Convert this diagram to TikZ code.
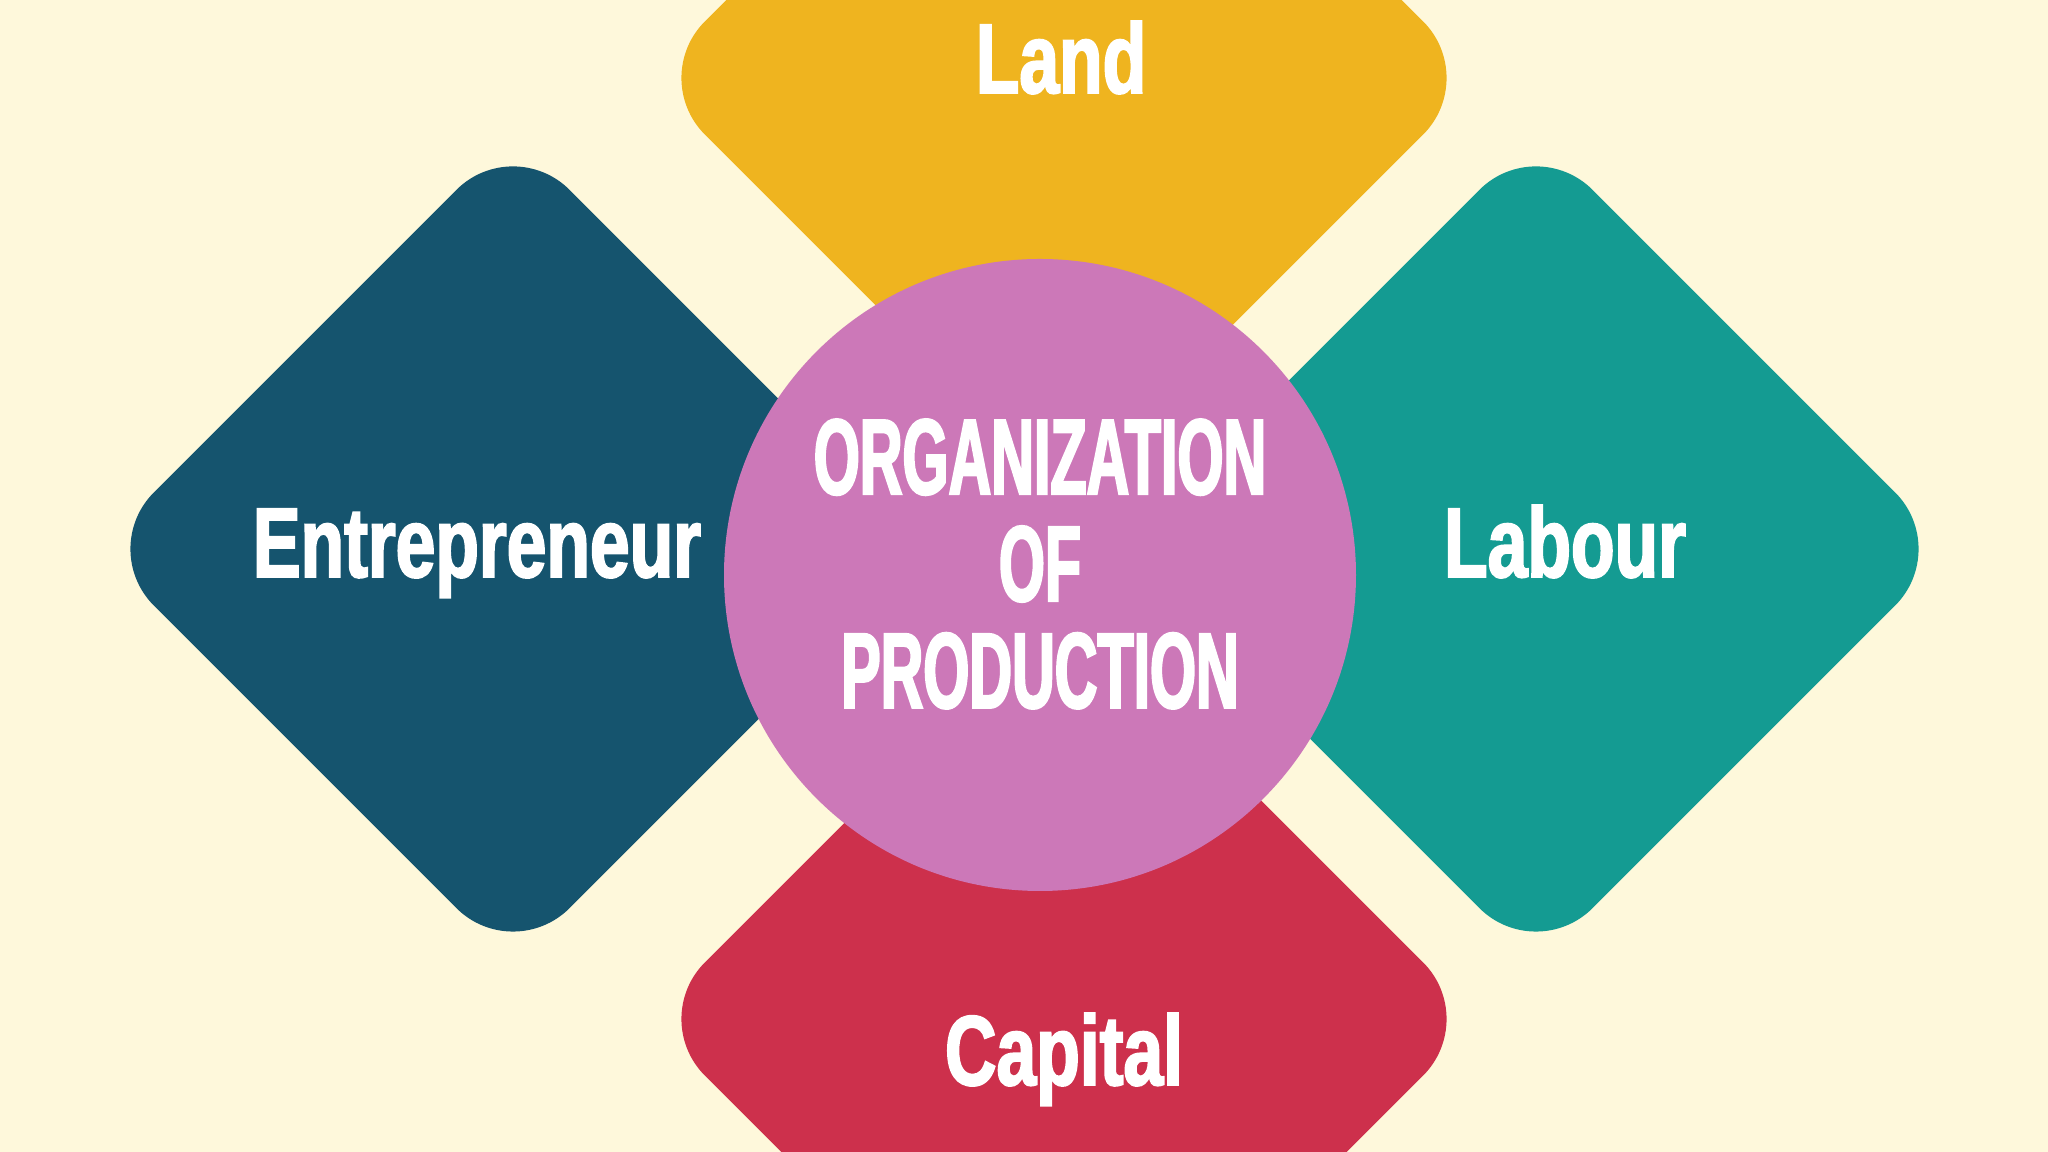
\documentclass[tikz,border=0pt]{standalone}
\usepackage{fontspec}
\setmainfont{Liberation Sans}
\newfontfamily\petalfont[FakeStretch=0.72, FakeBold=2]{Liberation Sans Bold}
\newfontfamily\hubfont[FakeStretch=0.55, FakeBold=2]{Liberation Sans Bold}
\usepackage{tikz}
\usetikzlibrary{positioning,shapes.geometric}

\definecolor{cream}{HTML}{FEF8DB}
\definecolor{navy}{HTML}{15546E}
\definecolor{seateal}{HTML}{149B92}
\definecolor{gold}{HTML}{EFB41F}
\definecolor{crimson}{HTML}{CD304C}
\definecolor{orchid}{HTML}{CC78B8}

\begin{document}
\begin{tikzpicture}

    \tikzstyle{petal} = [diamond, aspect=1, minimum width=8.32cm, minimum height=8.32cm, inner sep=0pt, rounded corners=0.8cm]
    \tikzstyle{hub} = [circle, minimum size=6.32cm, inner sep=0pt, fill=orchid]
    \tikzstyle{petal label} = [anchor=base, text=white, font=\petalfont\fontsize{28.2}{30}\selectfont]
    \tikzstyle{hub label} = [align=center, text=white, font=\hubfont\fontsize{30.6}{30.4}\selectfont]

    \useasboundingbox (0,0) rectangle (20.48,11.52);
    \clip (0,0) rectangle (20.48,11.52);
    \fill [cream] (0,0) rectangle (20.48,11.52);

    % the four factors
    \node [petal, fill=gold] (land) at (10.64,10.74) {};
    \node [petal, fill=navy] (entrepreneur) at (5.13,6.03) {};
    \node [petal, fill=seateal] (labour) at (15.36,6.03) {};
    \node [petal, fill=crimson] (capital) at (10.64,1.33) {};

    % centre
    \node [hub] (org) at (10.40,5.77) {};

    \node [petal label] (landText) at ([shift={(-0.03,-0.15)}]land.center) {Land};
    \node [petal label] (entrepreneurText) at ([shift={(-0.36,-0.28)}]entrepreneur.center) {Entrepreneur};
    \node [petal label] (labourText) at ([shift={(0.29,-0.28)}]labour.center) {Labour};
    \node [petal label] (capitalText) at ([shift={(0,-0.66)}]capital.center) {Capital};
    \node [hub label] (orgText) at ([yshift=0.11cm]org.center) {ORGANIZATION\\OF\\PRODUCTION};

\end{tikzpicture}
\end{document}
